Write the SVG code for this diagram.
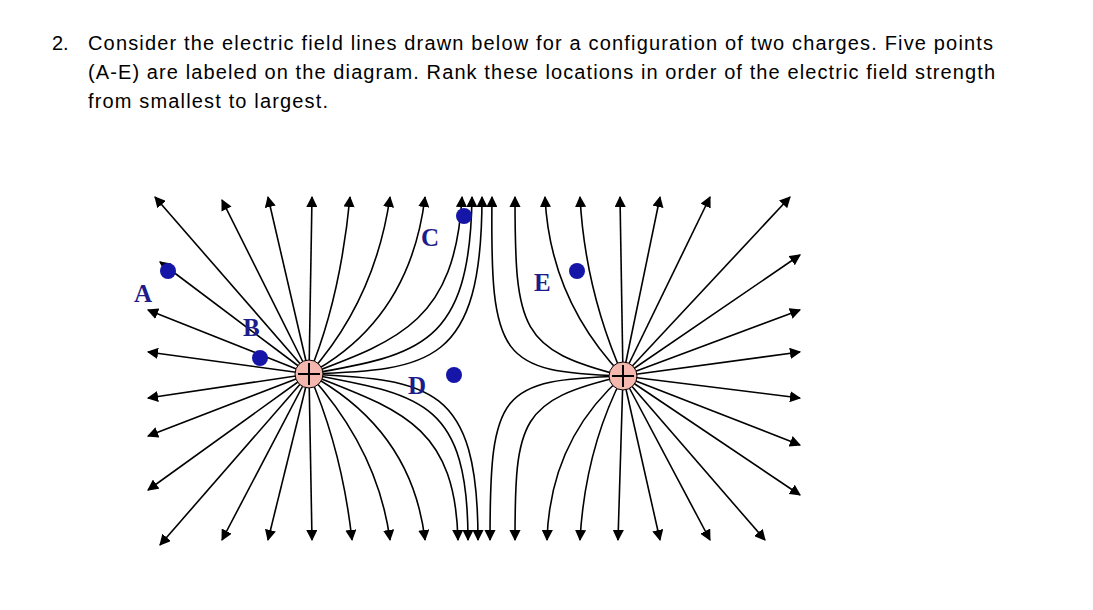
<svg xmlns="http://www.w3.org/2000/svg" width="1093" height="610" viewBox="0 0 1093 610">
<defs>
<marker id="ar" viewBox="0 0 10 10" refX="9" refY="5" markerWidth="7" markerHeight="7" orient="auto" markerUnits="strokeWidth"><path d="M0,0 L10,5 L0,10 z" fill="#000"/></marker>
<style>
.q{font-family:"Liberation Sans","Open Sans",sans-serif;font-size:20px;fill:#000}
.fl{fill:none;stroke:#000;stroke-width:1.6;marker-end:url(#ar)}
.lb{font-family:"Liberation Serif",serif;font-weight:bold;font-size:25px;fill:#1c1c8a}
.dot{fill:#1515a8}
.ch{fill:#f4b8ae;stroke:#000;stroke-width:1}
</style>
</defs>
<rect width="1093" height="610" fill="#fff"/>
<text class="q" x="52" y="50">2.</text>
<text class="q" x="88" y="50" textLength="905">Consider the electric field lines drawn below for a configuration of two charges. Five points</text>
<text class="q" x="88" y="79" textLength="907">(A-E) are labeled on the diagram. Rank these locations in order of the electric field strength</text>
<text class="q" x="88" y="108" textLength="240">from smallest to largest.</text>
<g id="connectors">
<path class="fl" d="M309,374 L155,197"/>
<path class="fl" d="M309,374 L222,200"/>
<path class="fl" d="M309,374 L268,197"/>
<path class="fl" d="M309,374 L312,197"/>
<path class="fl" d="M309,374 Q340,300 350,197"/>
<path class="fl" d="M309,374 Q375,300 390,197"/>
<path class="fl" d="M309,374 Q410,320 425,197"/>
<path class="fl" d="M309,374 C400,340 455,320 462,197"/>
<path class="fl" d="M309,374 C420,355 470,345 472,197"/>
<path class="fl" d="M309,374 C430,370 482,365 482,197"/>
<path class="fl" d="M309,374 L160,262"/>
<path class="fl" d="M309,374 L148,310"/>
<path class="fl" d="M309,374 L148,352"/>
<path class="fl" d="M309,374 L148,398"/>
<path class="fl" d="M309,374 L148,436"/>
<path class="fl" d="M309,374 L148,490"/>
<path class="fl" d="M309,374 L160,545"/>
<path class="fl" d="M309,374 L222,540"/>
<path class="fl" d="M309,374 L268,540"/>
<path class="fl" d="M309,374 L312,540"/>
<path class="fl" d="M309,374 Q342,450 352,540"/>
<path class="fl" d="M309,374 Q378,450 390,540"/>
<path class="fl" d="M309,374 Q412,430 425,540"/>
<path class="fl" d="M309,374 C400,410 455,425 458,540"/>
<path class="fl" d="M309,374 C420,395 468,400 468,540"/>
<path class="fl" d="M309,374 C430,380 478,385 478,540"/>
<path class="fl" d="M623,376 C500,372 490,360 492,197"/>
<path class="fl" d="M623,376 C520,350 515,330 515,197"/>
<path class="fl" d="M623,376 Q550,300 545,197"/>
<path class="fl" d="M623,376 Q585,290 580,197"/>
<path class="fl" d="M623,376 L620,197"/>
<path class="fl" d="M623,376 L660,197"/>
<path class="fl" d="M623,376 L710,197"/>
<path class="fl" d="M623,376 L790,197"/>
<path class="fl" d="M623,376 L800,255"/>
<path class="fl" d="M623,376 L800,310"/>
<path class="fl" d="M623,376 L800,352"/>
<path class="fl" d="M623,376 L800,398"/>
<path class="fl" d="M623,376 L800,445"/>
<path class="fl" d="M623,376 L800,495"/>
<path class="fl" d="M623,376 L765,540"/>
<path class="fl" d="M623,376 L710,540"/>
<path class="fl" d="M623,376 L660,540"/>
<path class="fl" d="M623,376 L618,540"/>
<path class="fl" d="M623,376 Q585,450 580,540"/>
<path class="fl" d="M623,376 Q550,440 547,540"/>
<path class="fl" d="M623,376 C520,400 515,420 515,540"/>
<path class="fl" d="M623,376 C500,380 490,390 490,540"/>
</g>
<g id="charge1"><circle class="ch" cx="309" cy="374" r="14"/><path d="M309,363 V385 M298,374 H320" stroke="#000" stroke-width="2"/></g>
<g id="charge2"><circle class="ch" cx="623" cy="376" r="14"/><path d="M623,365 V387 M612,376 H634" stroke="#000" stroke-width="2"/></g>
<g id="A"><circle class="dot" cx="168" cy="271" r="8"/><text class="lb" x="134" y="302">A</text></g>
<g id="B"><circle class="dot" cx="260" cy="358" r="8"/><text class="lb" x="243" y="336">B</text></g>
<g id="C"><circle class="dot" cx="464" cy="216" r="8"/><text class="lb" x="421" y="246">C</text></g>
<g id="D"><circle class="dot" cx="454" cy="375" r="8"/><text class="lb" x="408" y="394">D</text></g>
<g id="E"><circle class="dot" cx="577" cy="271" r="8"/><text class="lb" x="534" y="291">E</text></g>
</svg>
